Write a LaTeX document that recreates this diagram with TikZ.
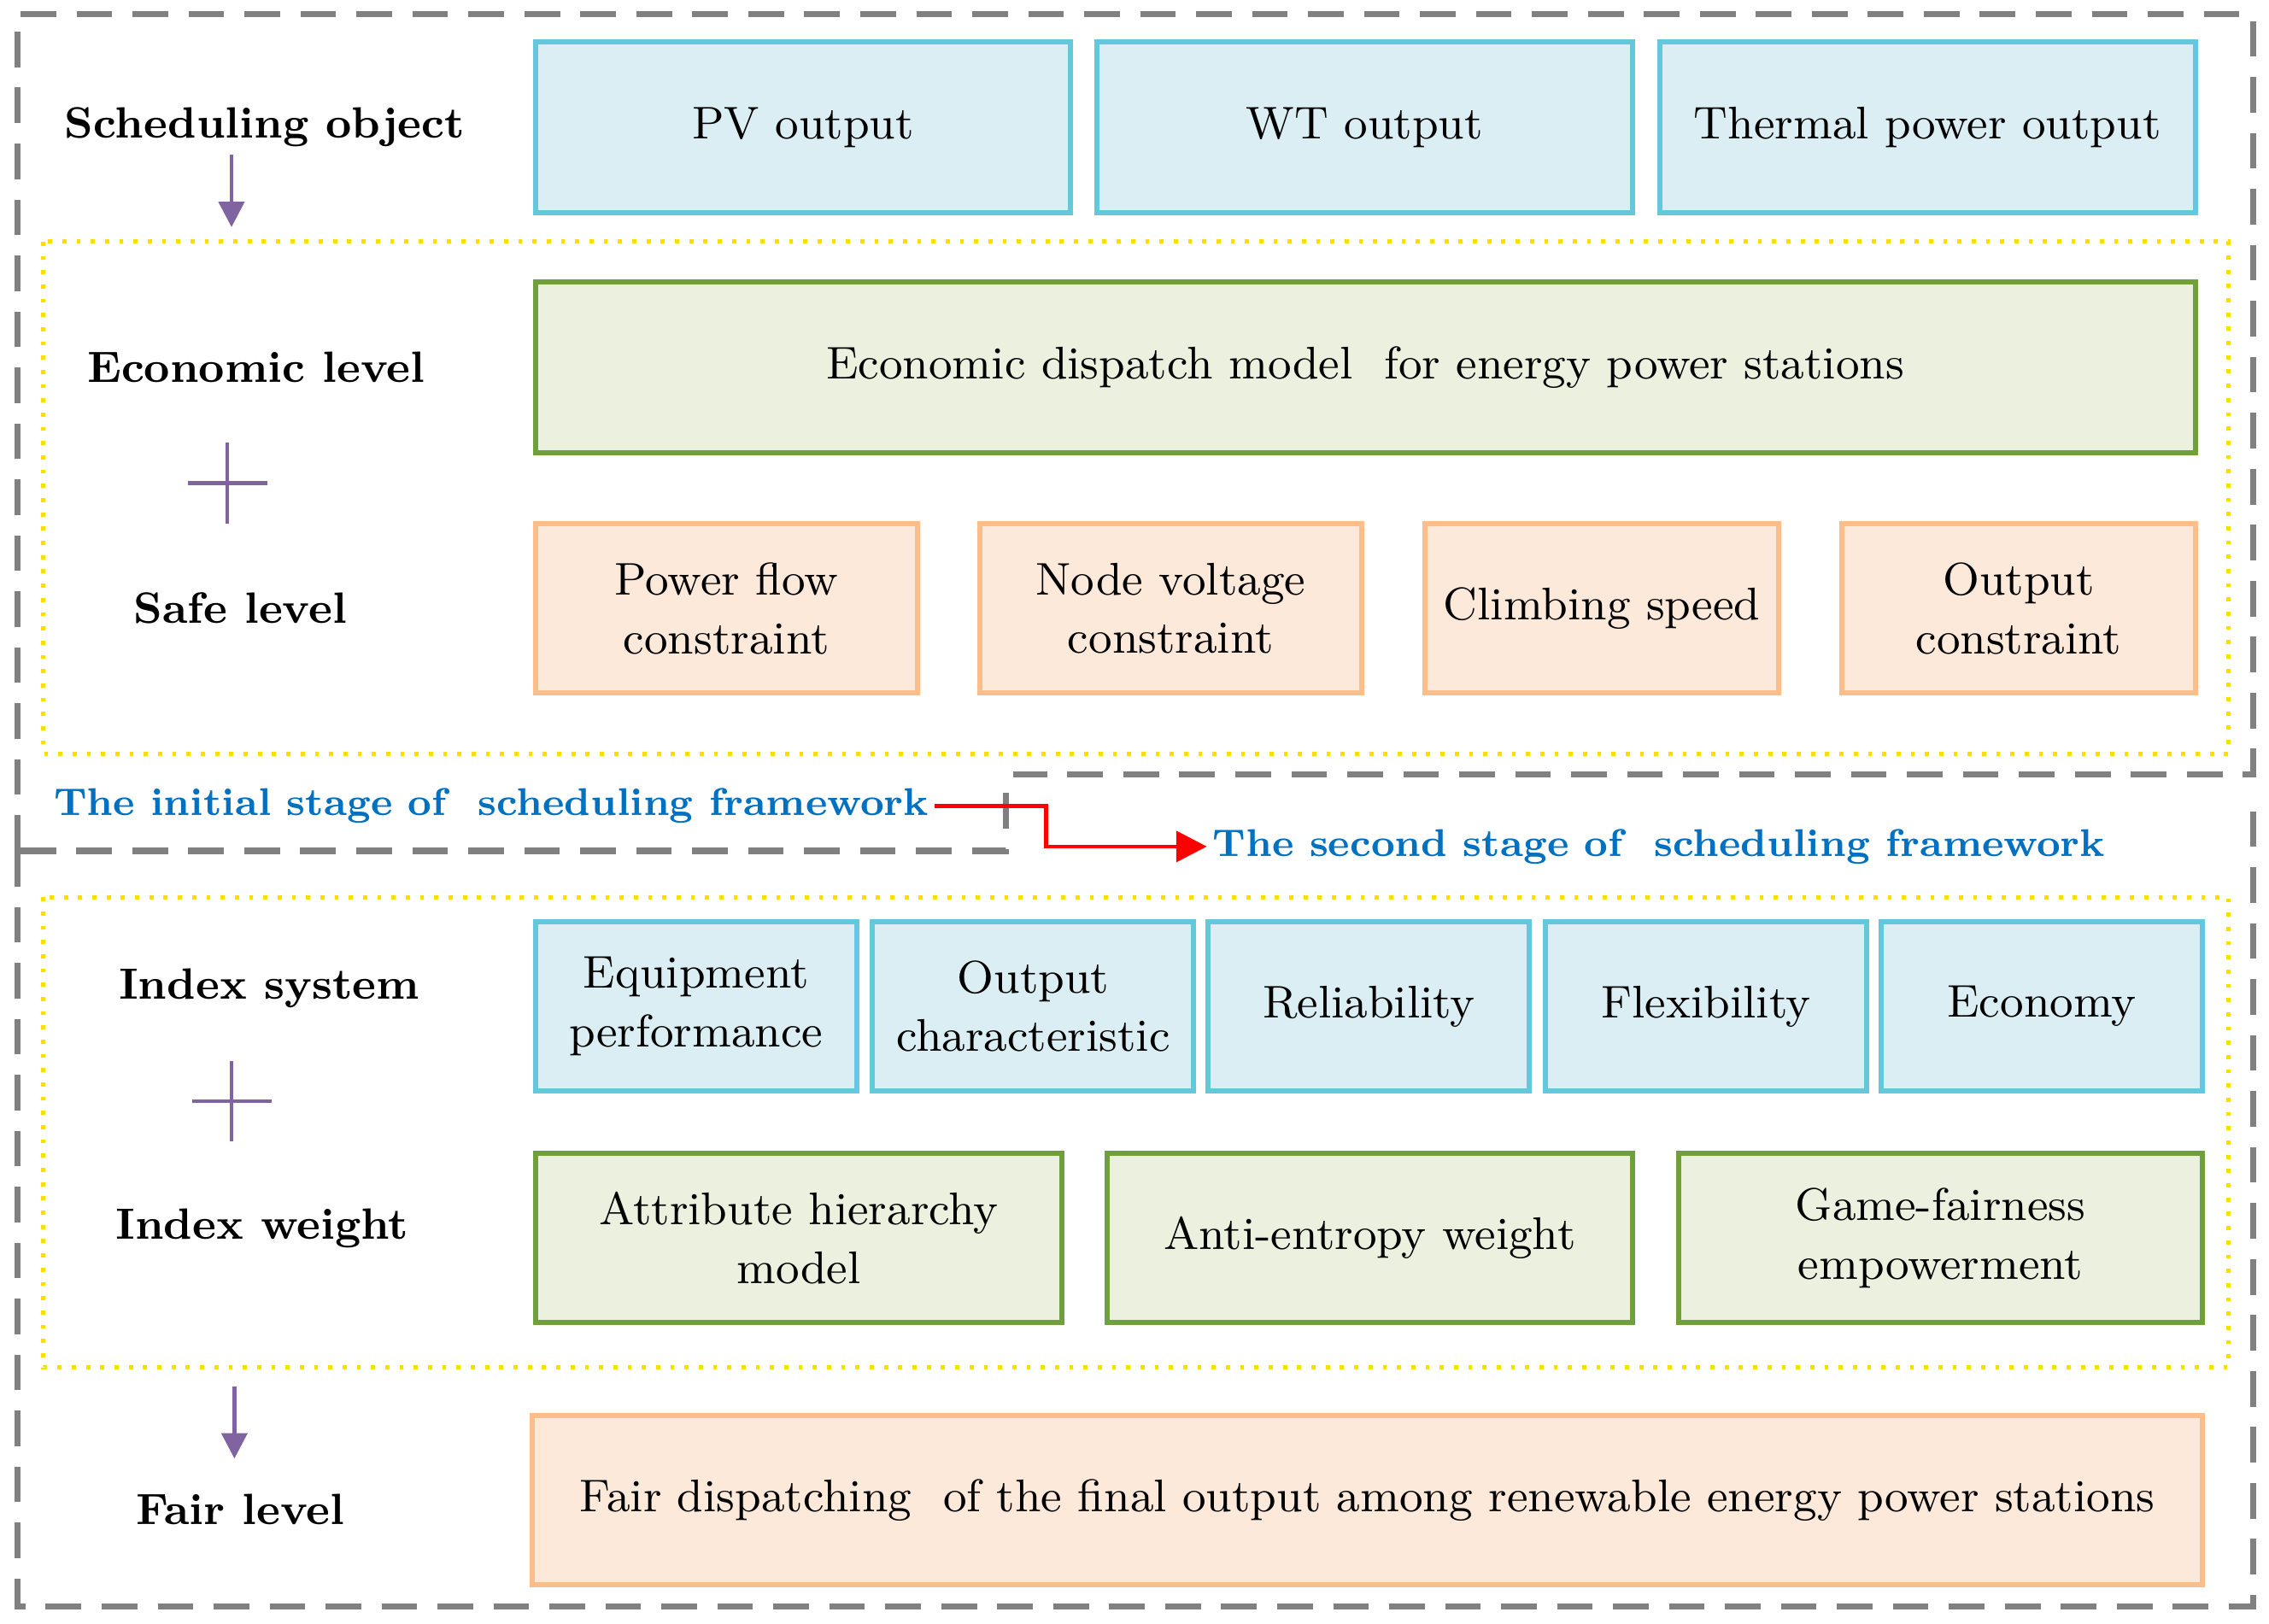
\documentclass[tikz,border=0pt]{standalone}
\usetikzlibrary{arrows.meta}
\definecolor{bluefill}{RGB}{218,238,243}
\definecolor{blueline}{RGB}{100,200,220}
\definecolor{greenfill}{RGB}{235,241,222}
\definecolor{greenline}{RGB}{112,160,60}
\definecolor{orangefill}{RGB}{253,233,217}
\definecolor{orangeline}{RGB}{250,190,140}
\definecolor{stageblue}{RGB}{0,112,192}
\definecolor{arrowpurple}{RGB}{128,100,162}
\tikzset{
  box/.style={draw, line width=1pt, align=center, inner sep=1pt, font=\fontsize{9}{11.5}\selectfont},
  bluebox/.style={box, fill=bluefill, draw=blueline},
  greenbox/.style={box, fill=greenfill, draw=greenline},
  orangebox/.style={box, fill=orangefill, draw=orangeline},
  level/.style={font=\fontsize{8.6}{11}\selectfont\bfseries},
  stage/.style={font=\fontsize{7.6}{10}\selectfont\bfseries, text=stageblue, inner sep=1pt},
  frame/.style={draw=gray, line width=1.2pt, dash pattern=on 7pt off 4pt},
  dotted frame/.style={draw=yellow!80!orange, line width=0.8pt, dotted},
}
% box from corners in pixel units
\newcommand{\pbox}[7]{\node[#1, minimum width={(#4-#3)*0.01cm}, minimum height={(#6-#5)*0.01cm}] (#2) at ({(#3+#4)/2},{-(#5+#6)/2}) {#7};}
\begin{document}
\begin{tikzpicture}[x=0.01cm, y=0.01cm]
	\useasboundingbox (0,0) rectangle (1568,-1122);
	% outer frames
	\draw[frame] (12,-588) -- (12,-10) -- (1557,-10) -- (1557,-535) -- (700,-535);
	\draw[frame] (695,-548) -- (695,-588) -- (12,-588);
	\draw[frame] (12,-588) -- (12,-1110) -- (1557,-1110) -- (1557,-548);
	\draw[dotted frame] (30,-167) rectangle (1540,-521);
	\draw[dotted frame] (30,-620) rectangle (1540,-945);
	% left labels
	\node[level] (sched) at (183,-88) {Scheduling object};
	\node[level] (econ) at (177,-254) {Economic level};
	\node[level] (safe) at (166,-420) {Safe level};
	\node[level] (isys) at (186,-683) {Index system};
	\node[level] (iwgt) at (181,-849) {Index weight};
	\node[level] (fair) at (166,-1043) {Fair level};
	\draw[arrowpurple, thick] (130,-334) -- (185,-334) (157,-306) -- (157,-362);
	\draw[arrowpurple, thick] (133,-761) -- (188,-761) (160,-733) -- (160,-789);
	\coordinate (a1) at (160,-107); \coordinate (a2) at (160,-157);
	\coordinate (b1) at (162,-958); \coordinate (b2) at (162,-1008);
	\draw[arrowpurple, thick, -{Triangle[length=5pt,width=5pt]}] (a1) -- (a2);
	\draw[arrowpurple, thick, -{Triangle[length=5pt,width=5pt]}] (b1) -- (b2);
	% scheduling objects
	\pbox{bluebox}{pv}{370}{740}{29}{147}{PV output}
	\pbox{bluebox}{wt}{758}{1128}{29}{147}{WT output}
	\pbox{bluebox}{th}{1147}{1517}{29}{147}{Thermal power output}
	% economic and safe level
	\pbox{greenbox}{model}{370}{1517}{195}{313}{Economic dispatch model\ \ for energy power stations}
	\pbox{orangebox}{flow}{370}{634}{362}{479}{Power flow\\constraint}
	\pbox{orangebox}{volt}{677}{941}{362}{479}{Node voltage\\constraint}
	\pbox{orangebox}{climb}{985}{1229}{362}{479}{Climbing speed}
	\pbox{orangebox}{outc}{1273}{1517}{362}{479}{Output\\constraint}
	% stages
	\node[stage, anchor=east] (first) at (646,-557) {The initial stage of\ \ scheduling framework};
	\node[stage, anchor=west] (second) at (834,-585) {The second stage of\ \ scheduling framework};
	\draw[red, thick, -{Triangle[length=6pt,width=6pt]}] (first.east) -| (723,-585) -- (second.west);
	% index system and weight
	\pbox{bluebox}{equip}{370}{592}{637}{754}{Equipment\\performance}
	\pbox{bluebox}{outch}{603}{825}{637}{754}{Output\\characteristic}
	\pbox{bluebox}{rel}{835}{1057}{637}{754}{Reliability}
	\pbox{bluebox}{flex}{1068}{1290}{637}{754}{Flexibility}
	\pbox{bluebox}{eco}{1300}{1522}{637}{754}{Economy}
	\pbox{greenbox}{attr}{370}{734}{797}{914}{Attribute hierarchy\\model}
	\pbox{greenbox}{anti}{765}{1128}{797}{914}{Anti-entropy weight}
	\pbox{greenbox}{game}{1160}{1522}{797}{914}{Game-fairness\\empowerment}
	% fair level
	\pbox{orangebox}{final}{368}{1522}{978}{1095}{Fair dispatching\ \ of the final output among renewable energy power stations}
\end{tikzpicture}
\end{document}
